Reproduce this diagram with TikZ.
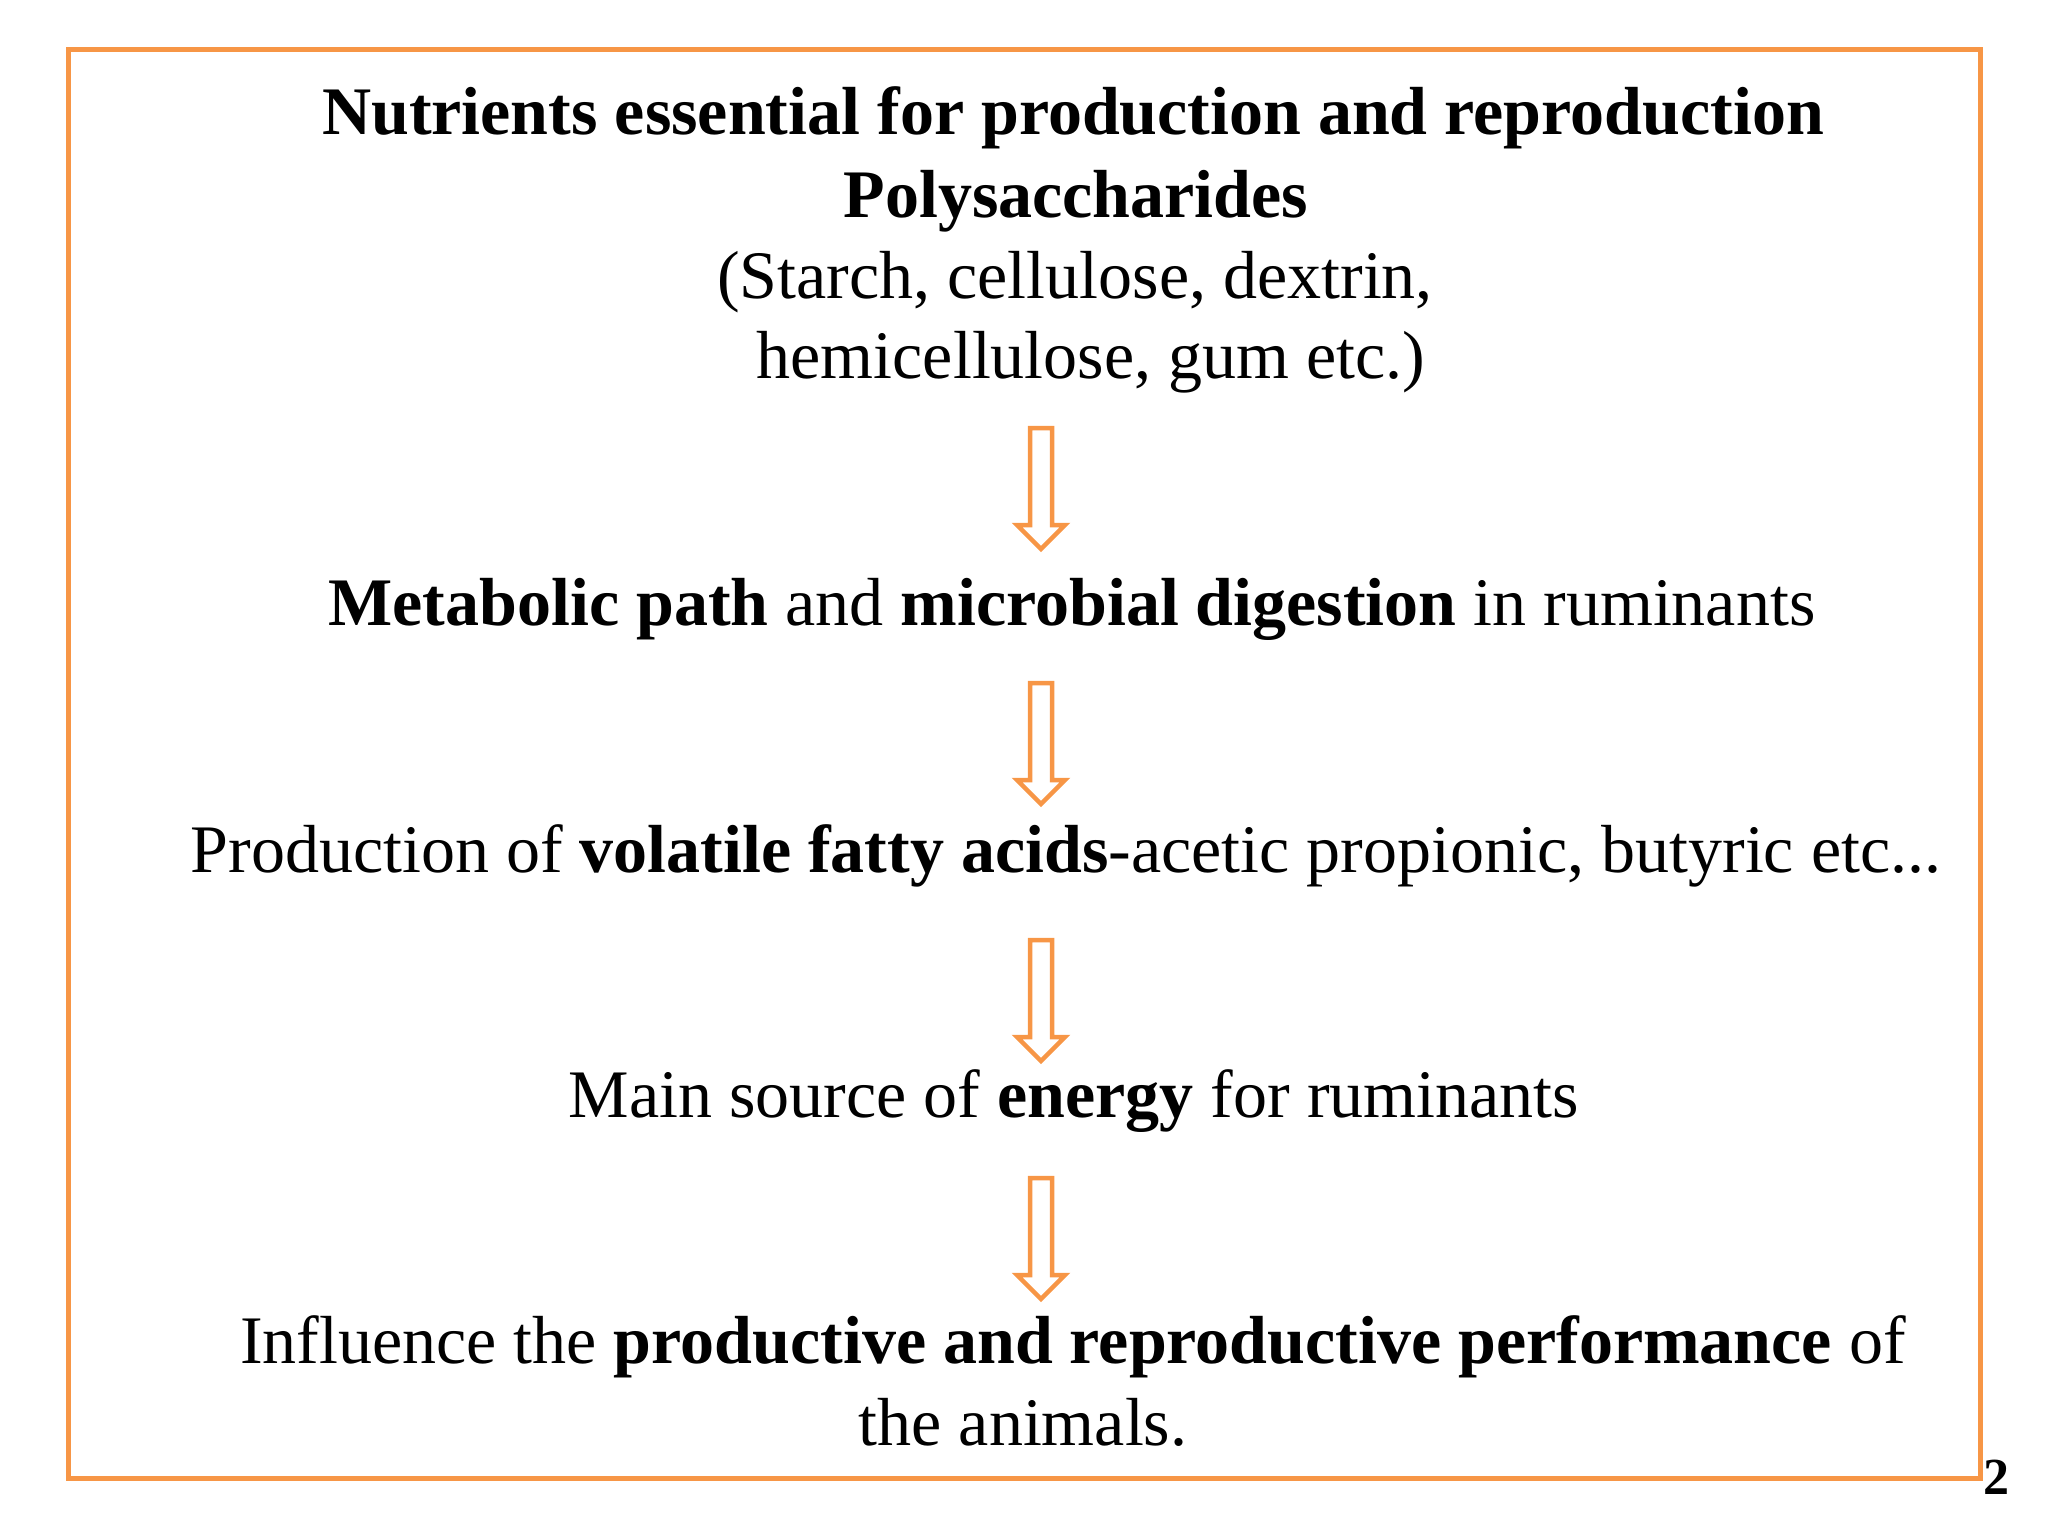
\documentclass[tikz,border=0pt]{standalone}
\usepackage{fontspec}
\setmainfont{Liberation Serif}
\usepackage{xcolor}
\usetikzlibrary{shapes.arrows}

\definecolor{slideorange}{HTML}{F79646}

\tikzset{
  txt/.style={anchor=base,inner sep=0pt,font=\fontsize{68}{82}\selectfont},
  downarr/.style={single arrow,draw=slideorange,line width=4.5pt,fill=white,
    rotate=-90,inner xsep=0pt,inner ysep=8.75pt,minimum height=121pt,
    single arrow head extend=13pt,single arrow head indent=0pt}
}

\begin{document}
\begin{tikzpicture}[x=1pt,y=1pt,yscale=-1,xscale=1]
\useasboundingbox (0,0) rectangle (2048,1536);

\draw[slideorange,line width=5pt] (68,50) rectangle (1980,1478);

\node[txt] (head) at (1073,135) {\textbf{Nutrients essential for production and reproduction}};
\node[txt] (poly) at (1076,217) {\textbf{Polysaccharides}};
\node[txt] (polya) at (1075,298) {(Starch, cellulose, dextrin,};
\node[txt] (polyb) at (1091,378) {hemicellulose, gum etc.)};

\node[txt] (meta) at (1072,625) {\textbf{Metabolic path} and \textbf{microbial digestion} in ruminants};
\node[txt] (vfa) at (1066,872) {Production of \textbf{volatile fatty acids}-acetic propionic, butyric etc...};
\node[txt] (energy) at (1074,1117) {Main source of \textbf{energy} for ruminants};
\node[txt] (perf) at (1073,1363) {Influence the \textbf{productive and reproductive performance} of};
\node[txt] (perfb) at (1023,1445) {the animals.};

\node[downarr] (arr1) at (1041,483) {};
\node[downarr] (arr2) at (1041,738) {};
\node[downarr] (arr3) at (1041,995) {};
\node[downarr] (arr4) at (1041,1233) {};

\node[anchor=base,inner sep=0pt,font=\fontsize{52}{62}\selectfont\bfseries] (pagenum) at (1996,1494) {2};
\end{tikzpicture}
\end{document}
